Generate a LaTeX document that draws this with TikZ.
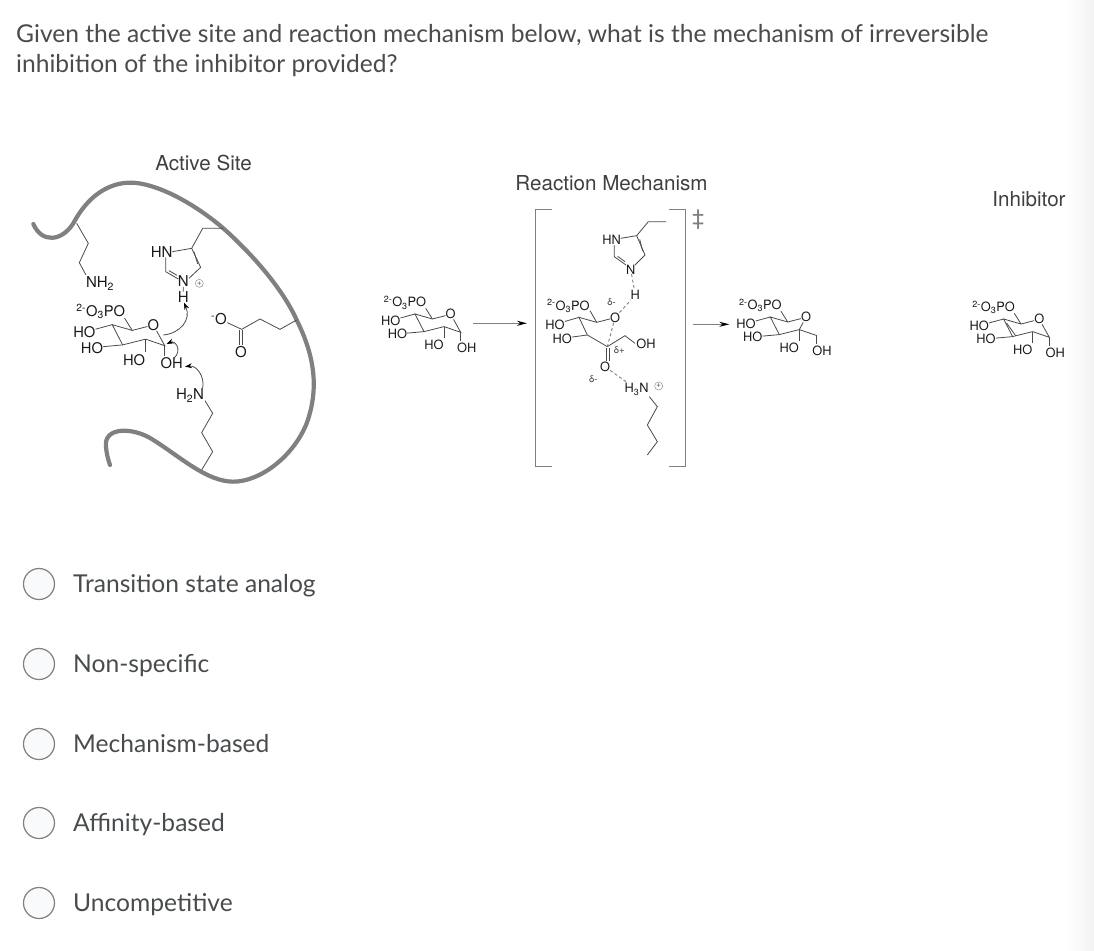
\documentclass[tikz,border=0pt]{standalone}
\usepackage{fontspec}
\setmainfont{Lato}
\newfontfamily\labelfont{TeX Gyre Heros}
\usetikzlibrary{arrows.meta}
\definecolor{inktext}{HTML}{494C4E}
\definecolor{chemink}{HTML}{4A4A4A}
\definecolor{radiofill}{HTML}{F9FAFC}
\tikzset{
	question/.style={anchor=base west,inner sep=0pt,text=inktext,font=\fontsize{24.6}{24.6}\selectfont},
	choice/.style={anchor=base west,inner sep=0pt,text=inktext,font=\fontsize{24.6}{24.6}\selectfont},
	radio/.style={circle,draw=black!50,line width=1.2pt,fill=radiofill,minimum size=31pt,inner sep=0pt},
	title/.style={inner sep=0pt,text=black!75,font=\labelfont\fontsize{20.6}{20.6}\selectfont},
	atom/.style={inner sep=0pt,text=black!90,font=\labelfont\fontsize{12.8}{12.8}\selectfont},
	bigatom/.style={inner sep=0pt,text=black!90,font=\labelfont\fontsize{15}{15}\selectfont},
	tiny/.style={inner sep=0pt,text=black!75,font=\labelfont\fontsize{9.5}{9.5}\selectfont},
	bond/.style={draw=chemink,line width=0.8pt},
	dashbond/.style={draw=gray,line width=0.9pt,dash pattern=on 3pt off 2.5pt},
	backbone/.style={draw=gray,line width=4.2pt,line cap=round},
	push/.style={draw=chemink,line width=0.8pt,-{Stealth[length=7pt,width=5pt,black]}},
	reacts/.style={draw=gray,line width=0.9pt,-{Stealth[length=10pt,width=5pt,black]}},
	% ring, with O at the origin
	sugar/.pic={
		\coordinate (-five) at (-18.3,4.7);
		\coordinate (-four) at (-35.7,-0.3);
		\coordinate (-three) at (-26.7,17.3);
		\coordinate (-two) at (-6.7,12.3);
		\coordinate (-one) at (10,18);
		\node[atom] (-ringO) at (0,0) {O};
		\node[atom] (-po) at (-45.7,-11.7) {\textsuperscript{2-}O\textsubscript{3}PO};
		\node[atom] (-hoa) at (-60,6.3) {HO};
		\node[atom] (-hob) at (-53.3,19.7) {HO};
		\node[atom] (-hoc) at (-16.7,30.7) {HO};
		\node[atom] (-oh) at (16,33.3) {OH};
		\draw[bond] (-ringO) -- (-five) -- (-four) -- (-three) -- (-two);
		\draw[bond] (-five) -- (-25,-6);
		\draw[bond] (-four) -- (-hoa);
		\draw[bond] (-three) -- (-hob);
		\draw[bond] (-two) -- ++(0,11.5);
		\draw[bond] (-one) -- ++(0,9);
	}
}
\begin{document}
\begin{tikzpicture}[x=1pt,y=-1pt]
\useasboundingbox (0,0) rectangle (1094,950);
\fill[white] (0,0) rectangle (1094,950);
\shade[left color=white,right color=black!5,shading angle=90] (1066,0) rectangle (1094,950);

% question
\node[question] (line1) at (16,42) {Given the active site and reaction mechanism below, what is the mechanism of irreversible};
\node[question] (line2) at (16,72) {inhibition of the inhibitor provided?};

% answers
\foreach \y/\t in {584/Transition state analog, 664/Non-specific, 744/Mechanism-based, 823/Affinity-based, 903/Uncompetitive} {
	\node[radio] (radio\y) at (39,\y) {};
	\node[choice] (answer\y) at (73,\y+8) {\t};
}

% headings
\node[title] (activesite) at (203.5,163) {Active Site};
\node[title] (mechanism) at (611.5,183) {Reaction Mechanism};
\node[title] (inhibitor) at (1029,199) {Inhibitor};

% active site
\begin{scope}[shift={(20,140)},scale=1/3]
\draw[backbone] (40,252) .. controls (65,310) and (125,305) .. (160,250)
	.. controls (205,165) and (270,125) .. (340,128)
	.. controls (430,135) and (540,205) .. (610,265)
	.. controls (700,345) and (790,450) .. (830,540)
	.. controls (880,640) and (900,740) .. (860,850)
	.. controls (820,950) and (720,1025) .. (640,1025)
	.. controls (560,1025) and (480,950) .. (400,900)
	.. controls (340,860) and (250,860) .. (258,920)
	.. controls (260,945) and (265,960) .. (270,975);
\draw[bond] (170,250) -- (205,310) -- (178,368) -- (198,405);
\node[bigatom] (lysa) at (240,430) {NH\textsubscript{2}};
\draw[bond] (610,265) -- (548,265) -- (515,325) -- (457,335);
\node[bigatom] (hisHN) at (425,335) {HN};
\node[bigatom] (hisN) at (490,424) {N};
\node[bigatom] (hisH) at (490,472) {H};
\node[tiny,circle,draw=gray,line width=0.4pt,minimum size=8pt] (hisplus) at (538,430) {\scalebox{0.8}{+}};
\draw[bond] (515,325) -- (542,382) -- (507,415);
\draw[bond] (522,335) -- (533,372);
\draw[bond] (437,352) -- (437,395) -- (475,417);
\draw[bond] (447,392) -- (471,406);
\draw[bond] (hisN) -- (hisH);
\draw[bond] (830,540) -- (780,568) -- (720,537) -- (665,568) -- (622,548);
\node[bigatom] (carbO) at (597,538) {\textsuperscript{-}O};
\node[bigatom] (carbdbl) at (663,637) {O};
\draw[bond] (659,570) -- (659,615);
\draw[bond] (668,570) -- (668,615);
\draw[bond] (545,990) -- (578,935) -- (545,878) -- (578,820) -- (555,782);
\node[bigatom] (lysb) at (510,767) {H\textsubscript{2}N};
\draw[push] (430,585) .. controls (480,580) and (515,540) .. (492,488);
\draw[push] (462,655) .. controls (488,630) and (465,600) .. (440,612);
\draw[push] (548,745) .. controls (555,710) and (530,675) .. (495,680);
\end{scope}
\pic[scale=1.15,transform shape] (site) at (153.3,325) {sugar};
\draw[bond] (site-ringO) -- (site-one) -- (site-two);

% first sugar
\pic (first) at (450.7,314.3) {sugar};
\draw[bond] (first-ringO) -- (first-one) -- (first-two);
\coordinate (firststart) at (473,323.3);
\coordinate (firstend) at (527,323.3);
\draw[reacts] (firststart) -- (firstend);

% transition state
\begin{scope}[shift={(370,170)},scale=1/3]
\draw[draw=gray,line width=0.9pt] (545,117) -- (497,117) -- (497,890) -- (545,890);
\draw[draw=gray,line width=0.9pt] (897,117) -- (945,117) -- (945,890) -- (897,890);
\node[inner sep=0pt,text=gray,font=\labelfont\fontsize{22}{22}\selectfont] (ddag) at (985,150) {‡};
\draw[bond] (888,155) -- (835,155) -- (800,197) -- (825,255) -- (795,285);
\draw[bond] (809,208) -- (818,243);
\draw[bond] (800,197) -- (752,205);
\node[atom] (tsHN) at (725,210) {HN};
\draw[bond] (733,225) -- (733,260) -- (768,285);
\draw[bond] (743,259) -- (765,275);
\node[atom] (tsN) at (782,298) {N};
\node[atom] (tsH) at (796,375) {H};
\draw[dashbond] (tsN) -- (tsH);
\node[atom] (tsO) at (735,443) {O};
\draw[dashbond] (tsO) -- (tsH);
\node[atom] (tspo) at (595,408) {\textsuperscript{2-}O\textsubscript{3}PO};
\node[atom] (tshoa) at (555,463) {HO};
\node[atom] (tshob) at (577,505) {HO};
\draw[bond] (tsO) -- (680,457) -- (627,442) -- (652,495) -- (712,530) -- (765,497) -- (795,520);
\draw[bond] (680,457) -- (660,422);
\draw[bond] (627,442) -- (tshoa);
\draw[bond] (652,495) -- (tshob);
\draw[dashbond] (tsO) -- (712,530);
\node[atom] (tsOH) at (828,522) {OH};
\draw[bond] (708,535) -- (708,572);
\draw[bond] (717,535) -- (717,572);
\node[atom] (tsdbl) at (705,590) {O};
\node[tiny] (dplus) at (748,540) {δ+};
\node[tiny] (dminusa) at (725,395) {δ-};
\node[tiny] (dminusb) at (670,628) {δ-};
\node[atom] (tslys) at (800,658) {H\textsubscript{3}N};
\draw[dashbond] (tsdbl) -- (tslys);
\node[tiny,circle,draw=gray,line width=0.4pt,minimum size=8pt] (tsplus) at (866,648) {\scalebox{0.8}{+}};
\draw[bond] (832,855) -- (862,815) -- (832,765) -- (862,710) -- (838,680);
\end{scope}

% product
\coordinate (secondstart) at (693,324.3);
\coordinate (secondend) at (729.3,324.3);
\draw[reacts] (secondstart) -- (secondend);
\pic (product) at (806,317.3) {sugar};
\draw[bond] (product-ringO) -- (product-two) -- (product-one);

% inhibitor
\pic (inhib) at (1039.3,319.3) {sugar};
\draw[bond] (inhib-ringO) -- (inhib-one) -- (inhib-two);
\draw[bond] ([shift={(3,4)}]inhib-four) -- ([shift={(3,-1)}]inhib-three);

\end{tikzpicture}
\end{document}
